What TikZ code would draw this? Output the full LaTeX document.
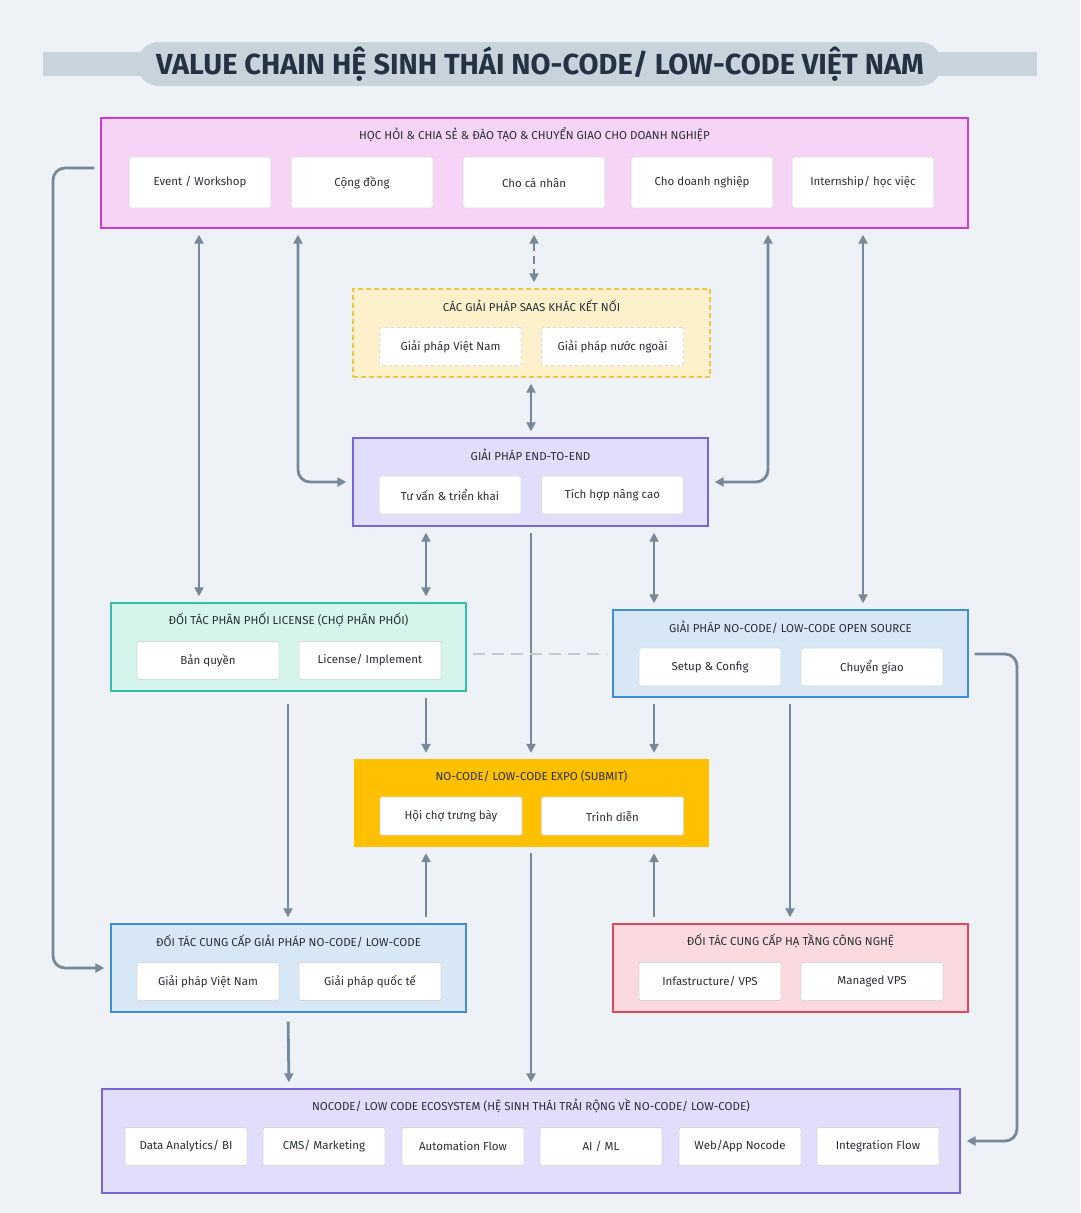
\documentclass[tikz,border=0pt]{standalone}
\usepackage{fontspec}
\setmainfont{Fira Sans}
\usetikzlibrary{arrows.meta}
\definecolor{bg}{HTML}{EEF2F7}
\definecolor{arrc}{HTML}{76889A}
\definecolor{titc}{HTML}{233343}
\definecolor{band}{HTML}{C9D3DC}
\definecolor{txt}{HTML}{2A2F36}
\tikzset{
  kid/.style={draw=gray!30,fill=white,line width=0.8pt,rounded corners=1.5pt,inner sep=0pt,minimum width=142pt,minimum height=38pt,font=\fontsize{11.5}{13}\selectfont,text=txt},
  ttl/.style={font=\fontsize{11.5}{13}\selectfont,text=txt},
  arr/.style={draw=arrc,line width=2.8pt,-{Triangle[length=9pt,width=9pt]},shorten <=6pt,shorten >=6pt},
  darr/.style={draw=arrc,line width=2.8pt,{Triangle[length=9pt,width=9pt]}-{Triangle[length=9pt,width=9pt]},shorten <=6pt,shorten >=6pt},
}
\begin{document}
\begin{tikzpicture}[x=1pt,y=-1pt]
\fill[bg] (0,0) rectangle (1080,1213);
\useasboundingbox (0,0) rectangle (1080,1213);
% title
\fill[band] (43,52) rectangle (1037,76);
\fill[band,rounded corners=22pt] (137,42) rectangle (942,86);
\node[font=\bfseries\fontsize{29}{31}\selectfont,text=titc] (title) at (540,64) {VALUE CHAIN HỆ SINH THÁI NO-CODE/ LOW-CODE VIỆT NAM};
% boxes
\node[draw={rgb,255:red,204;green,60;blue,208},fill={rgb,255:red,245;green,212;blue,245},line width=1.4pt,minimum width=867pt,minimum height=110pt,inner sep=0pt] (A) at (534.5,173) {};
\node[ttl] at (534.5,135) {HỌC HỎI \& CHIA SẺ \& ĐÀO TẠO \& CHUYỂN GIAO CHO DOANH NGHIỆP};
\node[kid,minimum height=51pt] (a1) at (200,182.5) {Event / Workshop};
\node[kid,minimum height=51pt] (a2) at (362,182.5) {Cộng đồng};
\node[kid,minimum height=51pt] (a3) at (534,182.5) {Cho cá nhân};
\node[kid,minimum height=51pt] (a4) at (702,182.5) {Cho doanh nghiệp};
\node[kid,minimum height=51pt] (a5) at (863,182.5) {Internship/ học việc};

\node[draw={rgb,255:red,242;green,196;blue,70},dashed,dash pattern=on 5pt off 3pt,fill={rgb,255:red,253;green,241;blue,204},line width=1.4pt,minimum width=357pt,minimum height=88pt,inner sep=0pt] (S) at (531.5,333) {};
\node[ttl] at (531.5,306) {CÁC GIẢI PHÁP SAAS KHÁC KẾT NỐI};
\node[kid,dashed] (s1) at (450.5,346.5) {Giải pháp Việt Nam};
\node[kid,dashed] (s2) at (612.5,346.5) {Giải pháp nước ngoài};

\node[draw={rgb,255:red,122;green,100;blue,214},fill={rgb,255:red,224;green,222;blue,251},line width=1.4pt,minimum width=355pt,minimum height=88pt,inner sep=0pt] (E) at (530.5,482) {};
\node[ttl] at (530.5,455) {GIẢI PHÁP END-TO-END};
\node[kid] (e1) at (450,495) {Tư vấn \& triển khai};
\node[kid] (e2) at (612.5,495) {Tích hợp nâng cao};

\node[draw={rgb,255:red,47;green,191;blue,170},fill={rgb,255:red,213;green,244;blue,236},line width=1.4pt,minimum width=355pt,minimum height=88pt,inner sep=0pt] (L) at (288.5,647) {};
\node[ttl] at (288.5,620) {ĐỐI TÁC PHÂN PHỐI LICENSE (CHỢ PHÂN PHỐI)};
\node[kid] (l1) at (208,660.5) {Bản quyền};
\node[kid] (l2) at (370,660.5) {License/ Implement};

\node[draw={rgb,255:red,60;green,143;blue,214},fill={rgb,255:red,216;green,231;blue,246},line width=1.4pt,minimum width=355pt,minimum height=87pt,inner sep=0pt] (O) at (790.5,653.5) {};
\node[ttl] at (790.5,627) {GIẢI PHÁP NO-CODE/ LOW-CODE OPEN SOURCE};
\node[kid] (o1) at (710,667) {Setup \& Config};
\node[kid] (o2) at (872,667) {Chuyển giao};

\node[fill={rgb,255:red,255;green,192;blue,0},minimum width=355pt,minimum height=88pt,inner sep=0pt] (X) at (531.5,803) {};
\node[ttl] at (531.5,776) {NO-CODE/ LOW-CODE EXPO (SUBMIT)};
\node[kid] (x1) at (451,816) {Hội chợ trưng bày};
\node[kid] (x2) at (612.5,816) {Trình diễn};

\node[draw={rgb,255:red,60;green,143;blue,214},fill={rgb,255:red,216;green,231;blue,246},line width=1.4pt,minimum width=355pt,minimum height=88pt,inner sep=0pt] (P) at (288.5,968) {};
\node[ttl] at (288.5,941) {ĐỐI TÁC CUNG CẤP GIẢI PHÁP NO-CODE/ LOW-CODE};
\node[kid] (p1) at (208,981.5) {Giải pháp Việt Nam};
\node[kid] (p2) at (370,981.5) {Giải pháp quốc tế};

\node[draw={rgb,255:red,224;green,72;blue,90},fill={rgb,255:red,250;green,217;blue,223},line width=1.4pt,minimum width=355pt,minimum height=88pt,inner sep=0pt] (I) at (790.5,968) {};
\node[ttl] at (790.5,941) {ĐỐI TÁC CUNG CẤP HẠ TẦNG CÔNG NGHỆ};
\node[kid] (i1) at (710,981.5) {Infastructure/ VPS};
\node[kid] (i2) at (872,981.5) {Managed VPS};

\node[draw={rgb,255:red,122;green,100;blue,214},fill={rgb,255:red,224;green,222;blue,251},line width=1.4pt,minimum width=858pt,minimum height=104pt,inner sep=0pt] (N) at (531,1141) {};
\node[ttl] at (531,1106) {NOCODE/ LOW CODE ECOSYSTEM (HỆ SINH THÁI TRẢI RỘNG VỀ NO-CODE/ LOW-CODE)};
\node[kid,minimum width=122pt] (n1) at (186,1146.5) {Data Analytics/ BI};
\node[kid,minimum width=122pt] (n2) at (324,1146.5) {CMS/ Marketing};
\node[kid,minimum width=122pt] (n3) at (463,1146.5) {Automation Flow};
\node[kid,minimum width=122pt] (n4) at (601,1146.5) {AI / ML};
\node[kid,minimum width=122pt] (n5) at (740,1146.5) {Web/App Nocode};
\node[kid,minimum width=122pt] (n6) at (878,1146.5) {Integration Flow};

% connectors
\draw[arr,rounded corners=12pt] (A.west |- 0,168) -- (53,168) -- (53,968) -- (P.west |- 0,968);
\draw[darr] (A.south -| 199,0) -- (L.north -| 199,0);
\draw[darr,rounded corners=12pt] (A.south -| 298,0) -- (298,482) -- (E.west |- 0,482);
\draw[darr,dashed,dash pattern=on 8pt off 5pt] (A.south -| 534,0) -- (S.north -| 534,0);
\draw[darr,rounded corners=12pt] (A.south -| 768,0) -- (768,482) -- (E.east |- 0,482);
\draw[darr] (A.south -| 863,0) -- (O.north -| 863,0);
\draw[darr] (S.south -| 531,0) -- (E.north -| 531,0);
\draw[darr] (E.south -| 426,0) -- (L.north -| 426,0);
\draw[darr] (E.south -| 654,0) -- (O.north -| 654,0);
\draw[arr] (E.south -| 531,0) -- (X.north -| 531,0);
\draw[draw=arrc!45,line width=2.4pt,dashed,dash pattern=on 12pt off 7pt,shorten <=6pt,shorten >=6pt] (L.east |- 0,654) -- (O.west |- 0,654);
\draw[arr] (L.south -| 426,0) -- (X.north -| 426,0);
\draw[arr] (O.south -| 654,0) -- (X.north -| 654,0);
\draw[arr,shorten <=12pt] (L.south -| 288,0) -- (P.north -| 288,0);
\draw[arr] (P.north -| 426,0) -- (X.south -| 426,0);
\draw[arr] (I.north -| 654,0) -- (X.south -| 654,0);
\draw[arr] (O.south -| 790,0) -- (I.north -| 790,0);
\draw[arr] (X.south -| 531,0) -- (N.north -| 531,0);
\draw[arr,shorten <=9pt] (P.south -| 288,0) -- (N.north -| 289,0);
\draw[arr,rounded corners=12pt] (O.east |- 0,654) -- (1017,654) -- (1017,1141) -- (N.east |- 0,1141);
\end{tikzpicture}
\end{document}
